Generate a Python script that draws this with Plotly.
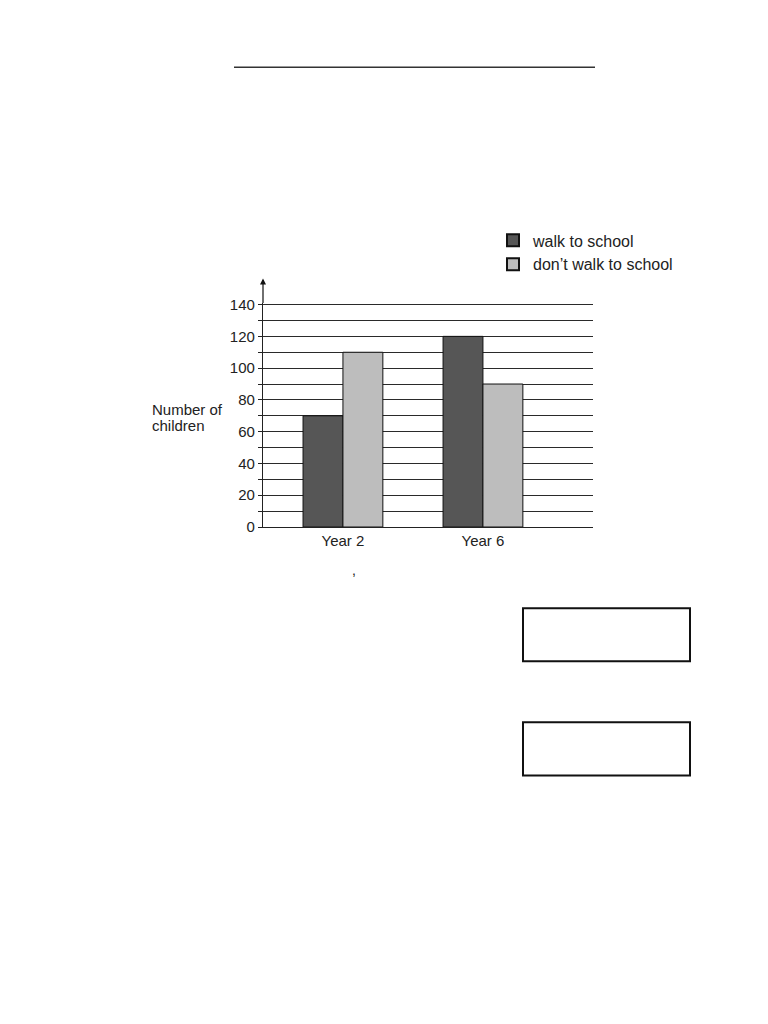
import plotly.graph_objects as go

categories = ["Year 2", "Year 6"]
walk = [70, 120]
dont_walk = [110, 90]
y_tick_vals = [0, 20, 40, 60, 80, 100, 120, 140]
y_tick_text = ["0", "20", "40", "60", "80", "100", "120", "140"]
y_title_lines = ["Number of", "children"]

W, H = 768, 1024
OFF = 8  # page body margin
L, R, B = 263, 593, 527
YMAX = 141
T = B - 222 / 140 * YMAX  # top of plot area in page pixels

def px(x):
    return (x - L) / (R - L)

def py(y):
    return (B - y) / (B - T)

font = dict(family="Liberation Sans, Arial, sans-serif", size=15, color="#222222")

fig = go.Figure()
fig.add_trace(go.Bar(x=categories, y=walk, name="walk to school",
                     marker=dict(color="#565656", line=dict(color="#111111", width=1))))
fig.add_trace(go.Bar(x=categories, y=dont_walk, name="don\u2019t walk to school",
                     marker=dict(color="#bdbdbd", line=dict(color="#111111", width=1))))

shapes = [
    dict(type="line", xref="paper", yref="paper", x0=px(234), x1=px(595), y0=py(68), y1=py(68),
         line=dict(color="#333333", width=1.5)),
    dict(type="rect", xref="paper", yref="paper", x0=px(523), x1=px(690), y0=py(608), y1=py(661),
         line=dict(color="#111111", width=2)),
    dict(type="rect", xref="paper", yref="paper", x0=px(523), x1=px(690), y0=py(722), y1=py(775),
         line=dict(color="#111111", width=2)),
]

annotations = [
    dict(xref="paper", yref="paper", x=0, y=py(279), ax=0, ay=26, axref="pixel", ayref="pixel",
         showarrow=True, arrowhead=2, arrowsize=1, arrowwidth=1.2, arrowcolor="#111111", text=""),
    dict(xref="paper", yref="paper", x=px(150), y=py(410), xanchor="left", yanchor="middle",
         text=y_title_lines[0], align="left", showarrow=False, font=font),
    dict(xref="paper", yref="paper", x=px(150), y=py(426), xanchor="left", yanchor="middle",
         text=y_title_lines[1], align="left", showarrow=False, font=font),
    dict(xref="paper", yref="paper", x=px(350), y=py(580), text=",", showarrow=False,
         font=dict(family="Liberation Sans", size=14, color="#222222")),
]

fig.update_layout(
    width=W, height=H, autosize=False,
    margin=dict(l=L - OFF, r=W - (R - OFF), t=T - OFF, b=H - (B - OFF), pad=0),
    paper_bgcolor="white", plot_bgcolor="white",
    font=font,
    barmode="group", bargap=0.43, bargroupgap=0,
    showlegend=True,
    legend=dict(x=px(493), y=py(224), xanchor="left", yanchor="top", bgcolor="rgba(0,0,0,0)",
                font=dict(family="Liberation Sans, Arial, sans-serif", size=16, color="#222222"),
                itemsizing="constant", tracegroupgap=0),
    shapes=shapes, annotations=annotations,
    xaxis=dict(range=[-0.571, 1.786], showgrid=False, zeroline=False, showline=True,
               linecolor="#222222", linewidth=1.3, ticks="", tickfont=font, fixedrange=True),
    yaxis=dict(range=[0, YMAX], tickvals=y_tick_vals, ticktext=y_tick_text,
               showgrid=True, gridcolor="#2a2a2a", gridwidth=1.3,
               minor=dict(dtick=10, tick0=0, showgrid=True, gridcolor="#2a2a2a", gridwidth=1.2,
                          ticks="outside", ticklen=4, tickcolor="#222222"),
               ticks="outside", ticklen=4, tickcolor="#222222",
               zeroline=False, showline=True, linecolor="#222222", linewidth=1.3,
               tickfont=font, fixedrange=True),
)

fig.write_html("out.html")
